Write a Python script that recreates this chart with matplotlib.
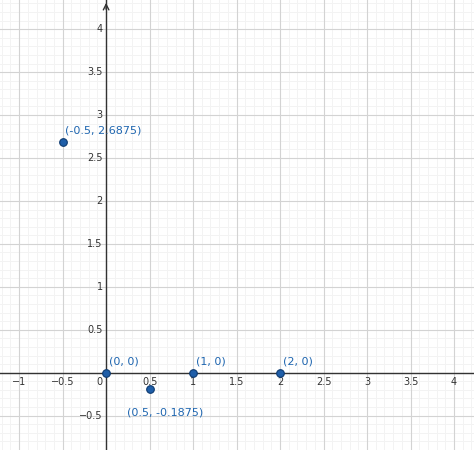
import matplotlib
matplotlib.use("Agg")
import matplotlib.pyplot as plt
import numpy as np

px = [-0.5, 0, 0.5, 1, 2]
py = [2.6875, 0, -0.1875, 0, 0]
labels = ["(-0.5, 2.6875)", "(0, 0)", "(0.5, -0.1875)", "(1, 0)", "(2, 0)"]
offsets = [(2, 6), (2, 6), (-16, -19), (2, 6), (2, 6)]
xticks = [-1, -0.5, 0.5, 1, 1.5, 2, 2.5, 3, 3.5, 4]
yticks = [-0.5, 0.5, 1, 1.5, 2, 2.5, 3, 3.5, 4]

fig = plt.figure(figsize=(4.74, 4.5), dpi=100)
ax = fig.add_axes([0, 0, 1, 1])
ax.set_xlim(-1.22, 4.23)
ax.set_ylim(-0.9, 4.34)
for v in np.arange(-1.2, 4.3, 0.1):
    ax.axvline(v, color="#f3f3f3", lw=0.7, zorder=0)
for v in np.arange(-0.9, 4.4, 0.1):
    ax.axhline(v, color="#f3f3f3", lw=0.7, zorder=0)
for v in np.arange(-1, 4.3, 0.5):
    ax.axvline(v, color="#d3d3d3", lw=0.8, zorder=0)
for v in np.arange(-0.5, 4.4, 0.5):
    ax.axhline(v, color="#d3d3d3", lw=0.8, zorder=0)
ax.axhline(0, color="#333333", lw=1.0, zorder=1)
ax.axvline(0, color="#333333", lw=1.0, zorder=1)
ax.annotate("", xy=(0, 4.34), xytext=(0, 4.2),
            arrowprops=dict(arrowstyle="->", color="#333333", lw=1.0))
for s in ax.spines.values():
    s.set_visible(False)
ax.set_xticks([]); ax.set_yticks([])
for t in xticks:
    ax.text(t, -0.05, f"{t:g}".replace("-", "\u2212"), ha="center", va="top", fontsize=7, color="#333333")
for t in yticks:
    ax.text(-0.04, t, f"{t:g}".replace("-", "\u2212"), ha="right", va="center", fontsize=7, color="#333333")
ax.text(-0.04, -0.05, "0", ha="right", va="top", fontsize=7, color="#333333")
ax.scatter(px, py, s=30, color="#1f5ea8", edgecolor="#0d3a70", linewidth=0.8, zorder=5)
for x, y, l, o in zip(px, py, labels, offsets):
    ax.annotate(l, (x, y), xytext=o, textcoords="offset points", fontsize=8, color="#1f66b0")
fig.savefig("out.png", dpi=100)
